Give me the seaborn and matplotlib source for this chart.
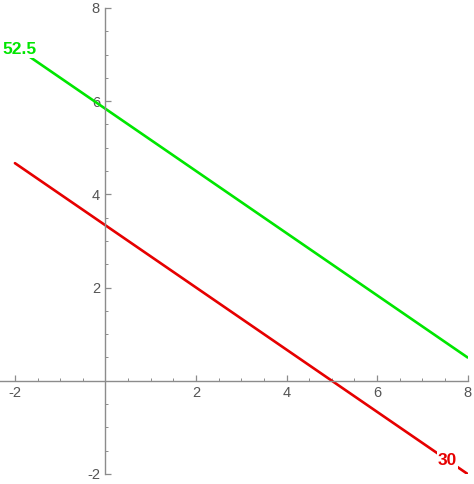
import matplotlib
matplotlib.use("Agg")
import matplotlib.pyplot as plt
import seaborn as sns
from matplotlib.ticker import MultipleLocator, FuncFormatter

# Data (level lines 6x + 9y = c)
line_levels = ["30", "52.5"]
line_colors = ["#e60000", "#00e600"]
red_x = [-2.0, 8.0]
red_y = [4.67, -2.0]
green_x = [-2.0, 8.0]
green_y = [7.17, 0.5]
label_x = [7.55, -1.9]
label_y = [-1.7, 7.11]
major_ticks = [-2, 2, 4, 6, 8]

sns.set_style("white")
plt.rcParams['font.family'] = ['Liberation Sans', 'DejaVu Sans']

fig = plt.figure(figsize=(4.74, 4.84), dpi=100)
ax = fig.add_axes([0.0, 0.0207, 0.9865, 0.9628])

sns.lineplot(x=red_x, y=red_y, color=line_colors[0], linewidth=1.9, ax=ax)
sns.lineplot(x=green_x, y=green_y, color=line_colors[1], linewidth=1.9, ax=ax)

for lx, ly, txt, col in zip(label_x, label_y, line_levels, line_colors):
    ax.text(lx, ly, txt, color=col, fontsize=12.5, fontweight='bold',
            ha='center', va='center', zorder=5,
            bbox=dict(facecolor='white', edgecolor='none', pad=0.8))

ax.set_xlim(-2.33, 8.0)
ax.set_ylim(-2.0, 8.0)

for side in ['top', 'right']:
    ax.spines[side].set_visible(False)
ax.spines['left'].set_position(('data', 0))
ax.spines['bottom'].set_position(('data', 0))
for side in ['left', 'bottom']:
    ax.spines[side].set_color('#8c8c8c')
    ax.spines[side].set_linewidth(1.0)

ax.set_xticks(major_ticks)
ax.set_yticks(major_ticks)
ax.xaxis.set_minor_locator(MultipleLocator(0.5))
ax.yaxis.set_minor_locator(MultipleLocator(0.5))
fmt = FuncFormatter(lambda v, p: '' if abs(v) < 1e-9 else ('-%d' % abs(v) if v < 0 else '%d' % v))
ax.xaxis.set_major_formatter(fmt)
ax.yaxis.set_major_formatter(fmt)
ax.tick_params(which='both', bottom=True, left=True, top=False, right=False)
ax.tick_params(which='major', direction='in', length=4, width=0.9, color='#8c8c8c',
               labelsize=10.5, labelcolor='#555555', pad=4)
ax.tick_params(which='minor', direction='in', length=2.2, width=0.7, color='#8c8c8c')
ax.set_xlabel('')
ax.set_ylabel('')
ax.set_facecolor('white')
ax.grid(False)

fig.savefig('out.png', dpi=100)
